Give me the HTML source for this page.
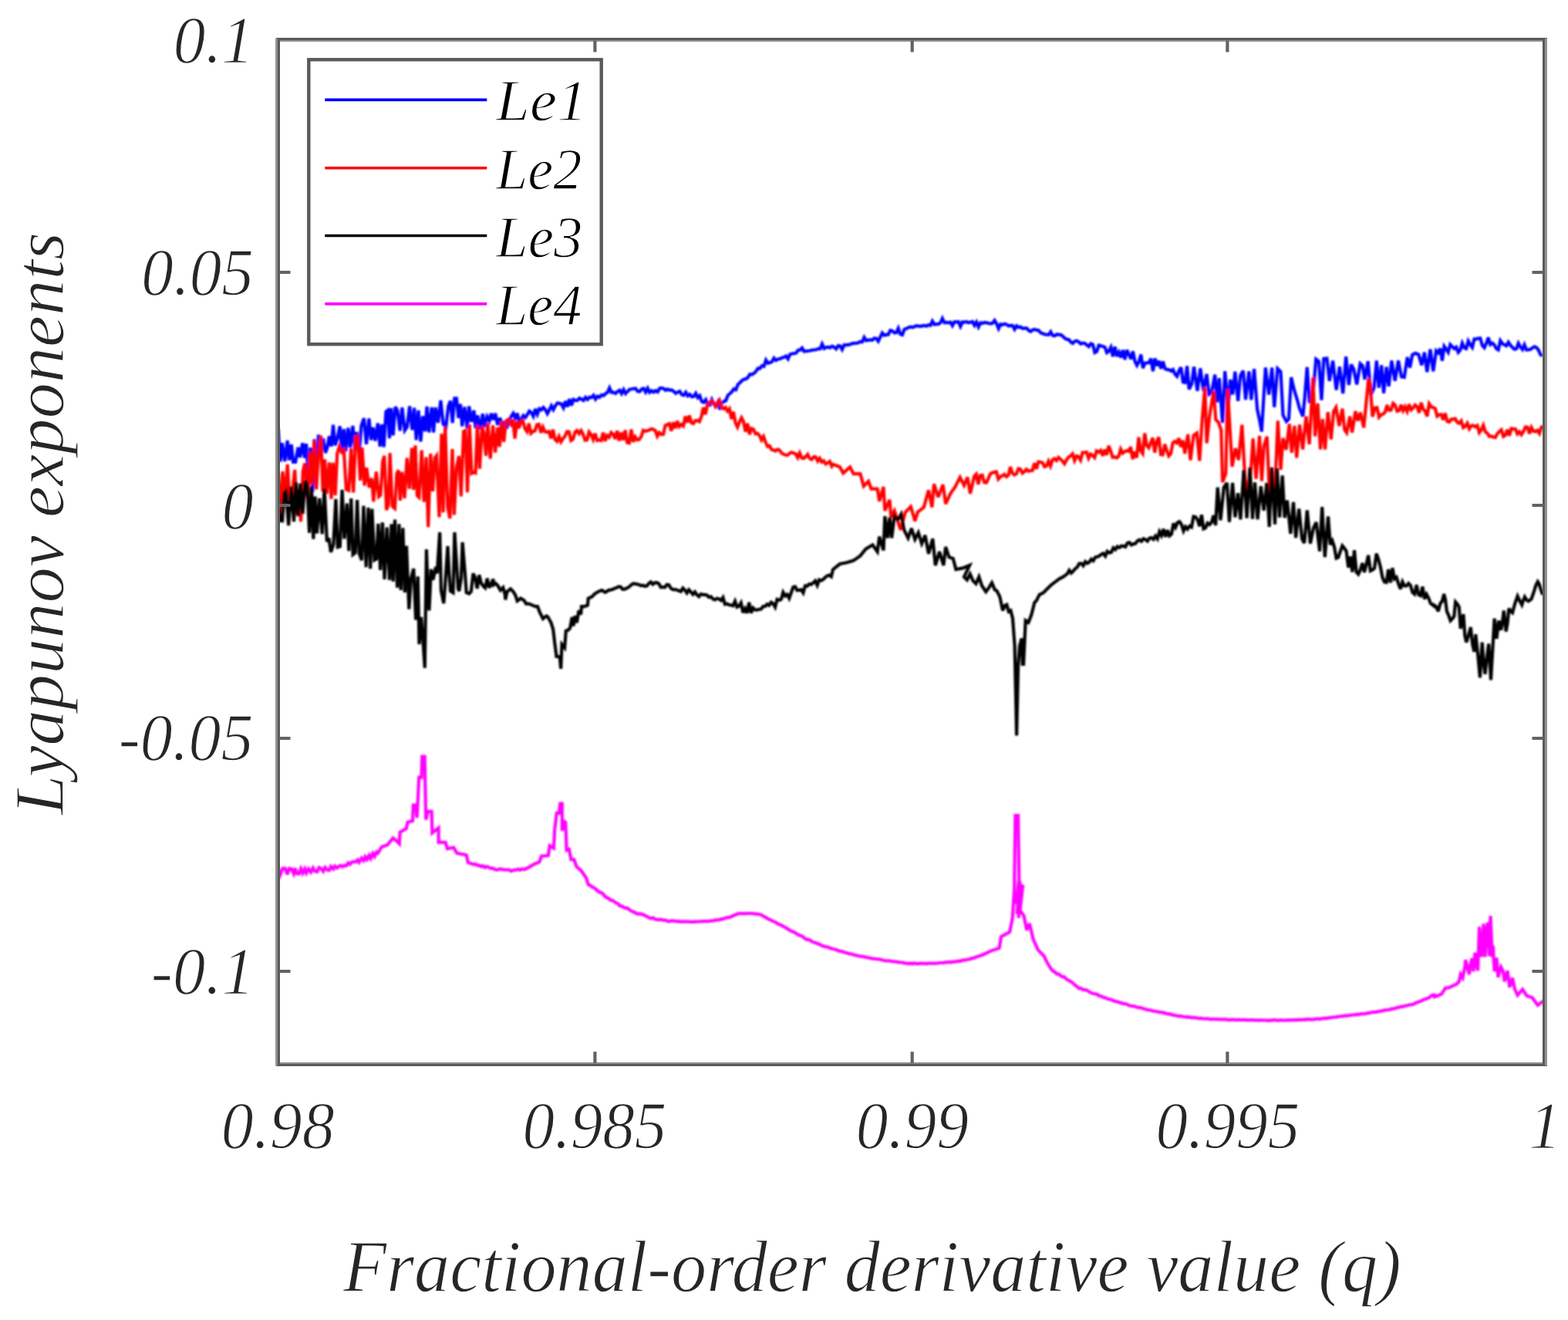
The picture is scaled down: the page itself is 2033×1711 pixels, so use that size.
<!DOCTYPE html><html><head><meta charset="utf-8"><style>html,body{margin:0;padding:0;background:#fff;}svg{display:block;}</style></head><body><svg xmlns="http://www.w3.org/2000/svg" width="2033" height="1711" viewBox="0 0 2033 1711">
<rect x="0" y="0" width="2033" height="1711" fill="#fff"/>
<defs><clipPath id="c"><rect x="360.5" y="51.6" width="1642.0" height="1327.7"/></clipPath><filter id="bl" filterUnits="userSpaceOnUse" x="340" y="30" width="1690" height="1370"><feGaussianBlur stdDeviation="1.0"/></filter></defs>
<g clip-path="url(#c)"><g filter="url(#bl)" fill="none" stroke-linejoin="miter" stroke-miterlimit="3">
<path d="M360.5,556.0 L363.5,598.3 L365.9,574.3 L369.3,597.9 L372.7,571.1 L375.1,596.5 L377.8,576.1 L380.1,598.9 L383.1,598.9 L386.5,579.9 L388.9,592.9 L392.3,574.4 L394.9,593.5 L397.1,575.2 L399.8,618.8 L402.6,580.1 L405.2,637.6 L407.5,569.4 L409.8,618.4 L413.0,563.4 L415.9,587.6 L418.9,568.2 L421.9,587.0 L424.3,580.5 L426.9,565.3 L429.6,578.5 L432.0,550.7 L434.5,577.4 L437.3,568.8 L440.7,552.3 L443.0,581.9 L445.9,556.2 L448.1,585.2 L451.5,554.6 L454.1,580.2 L457.4,552.0 L460.4,584.0 L462.5,559.9 L465.8,585.4 L468.5,551.7 L471.9,542.2 L475.0,575.7 L478.4,542.4 L481.2,570.4 L483.7,554.0 L486.6,571.5 L489.9,548.6 L492.7,578.8 L495.0,550.2 L497.7,579.5 L500.4,533.6 L502.8,531.8 L504.9,568.1 L507.1,529.2 L509.7,564.4 L512.5,527.3 L515.3,532.0 L518.6,558.2 L521.4,528.3 L524.8,557.8 L527.8,553.4 L531.1,526.4 L534.4,557.4 L537.1,528.7 L539.7,570.4 L542.5,531.8 L545.4,572.4 L548.1,539.3 L551.3,559.2 L553.5,526.9 L556.2,560.4 L559.7,528.0 L562.1,560.5 L564.6,528.2 L568.0,547.9 L571.4,518.9 L574.7,549.7 L578.2,553.2 L581.3,526.6 L584.1,519.6 L586.7,548.2 L589.3,516.4 L591.9,516.4 L594.4,541.7 L596.9,523.7 L599.2,552.5 L602.3,527.6 L605.8,555.3 L608.1,526.7 L611.3,546.7 L614.5,532.0 L616.6,555.0 L619.2,538.3 L622.5,556.5 L625.9,536.3 L628.2,553.4 L631.6,540.0 L634.5,545.4 L636.8,535.9 L639.6,544.0 L642.3,536.0 L645.2,550.8 L648.4,541.8 L651.5,553.5 L654.5,546.0 L656.8,555.8 L659.5,546.0 L662.9,539.5 L665.5,535.7 L668.1,542.0 L670.7,535.8 L673.3,547.6 L675.9,543.6 L678.5,538.7 L681.1,541.3 L683.7,537.3 L686.3,532.9 L688.9,534.8 L691.5,539.6 L694.1,530.0 L696.7,536.9 L699.3,529.7 L701.9,531.2 L704.5,528.1 L707.1,531.0 L709.7,536.1 L712.3,531.2 L714.9,525.9 L717.5,530.9 L720.1,525.8 L722.7,522.5 L725.3,522.8 L727.9,523.8 L730.5,528.6 L733.1,520.0 L735.7,527.3 L738.3,517.2 L740.9,525.5 L743.5,517.8 L746.1,519.2 L748.7,519.0 L751.3,516.0 L753.9,517.3 L756.5,519.0 L759.1,515.1 L761.7,517.8 L764.3,514.8 L766.9,515.3 L769.5,512.4 L772.1,517.5 L774.7,513.7 L777.3,514.9 L779.9,511.9 L782.5,512.8 L785.1,510.2 L787.7,508.7 L790.3,502.7 L792.9,508.6 L795.5,508.7 L798.1,509.9 L800.7,507.4 L803.3,505.8 L805.9,510.1 L808.5,504.9 L811.1,510.1 L813.7,507.4 L816.3,504.7 L818.9,504.3 L821.5,503.8 L824.1,503.5 L826.7,507.3 L829.3,507.5 L831.9,504.4 L834.5,503.5 L837.1,508.3 L839.7,503.3 L842.3,508.7 L844.9,506.5 L847.5,508.3 L850.1,506.4 L852.7,508.0 L855.3,503.4 L857.9,503.0 L860.5,503.6 L863.1,505.9 L865.7,504.5 L868.3,505.9 L870.9,505.4 L873.5,507.3 L876.1,509.9 L878.7,508.3 L881.3,507.2 L883.9,511.6 L886.5,512.4 L889.1,508.5 L891.7,513.1 L894.3,511.1 L896.9,514.2 L899.5,513.9 L902.1,509.9 L904.7,515.4 L907.3,513.0 L909.9,520.5 L912.5,521.7 L915.1,518.1 L917.7,524.5 L920.3,525.0 L922.9,518.1 L925.5,523.9 L928.1,526.4 L930.7,521.2 L933.3,530.8 L935.9,522.2 L938.5,520.4 L941.1,519.3 L943.7,512.5 L946.3,510.3 L948.9,507.9 L951.5,504.0 L954.1,505.1 L956.7,498.4 L959.3,496.1 L961.9,493.5 L964.5,491.8 L967.1,491.2 L969.7,489.2 L972.3,485.0 L974.9,485.5 L977.5,483.9 L980.1,481.4 L982.7,477.5 L985.3,477.6 L987.9,474.1 L990.5,474.9 L993.1,466.7 L995.7,470.8 L998.3,470.1 L1000.9,468.9 L1003.5,464.2 L1006.1,467.1 L1008.7,465.5 L1011.3,465.1 L1013.9,463.8 L1016.5,463.1 L1019.1,461.6 L1021.7,465.2 L1024.3,459.2 L1026.9,458.5 L1029.5,458.2 L1032.1,457.7 L1034.7,454.0 L1037.3,453.7 L1039.9,450.9 L1042.5,455.4 L1045.1,455.1 L1047.7,455.0 L1050.3,454.5 L1052.9,453.8 L1055.5,453.5 L1058.1,453.3 L1060.7,452.1 L1063.3,452.2 L1065.9,445.8 L1068.5,451.7 L1071.1,450.2 L1073.7,449.9 L1076.3,450.7 L1078.9,448.7 L1081.5,450.0 L1084.1,452.3 L1086.7,448.1 L1089.3,448.5 L1091.9,453.1 L1094.5,447.1 L1097.1,447.2 L1099.7,447.1 L1102.3,446.2 L1104.9,445.4 L1107.5,444.9 L1110.1,445.0 L1112.7,444.2 L1115.3,442.9 L1117.9,443.3 L1120.5,437.3 L1123.1,441.4 L1125.7,440.9 L1128.3,440.4 L1130.9,441.0 L1133.5,438.5 L1136.1,438.8 L1138.7,442.4 L1141.3,436.9 L1143.9,431.5 L1146.5,434.6 L1149.1,433.9 L1151.7,433.7 L1154.3,428.2 L1156.9,428.8 L1159.5,431.3 L1162.1,431.2 L1164.7,425.5 L1167.3,433.1 L1169.9,434.0 L1172.5,426.8 L1175.1,425.9 L1177.7,424.6 L1180.3,423.7 L1182.9,424.4 L1185.5,423.5 L1188.1,422.2 L1190.7,422.7 L1193.3,423.0 L1195.9,422.4 L1198.5,422.0 L1201.1,422.7 L1203.7,421.3 L1206.3,421.8 L1208.9,416.3 L1211.5,420.6 L1214.1,420.0 L1216.7,420.2 L1219.3,418.4 L1221.9,412.7 L1224.5,418.3 L1227.1,417.9 L1229.7,418.3 L1232.3,417.7 L1234.9,422.2 L1237.5,417.1 L1240.1,417.3 L1242.7,417.0 L1245.3,423.2 L1247.9,417.3 L1250.5,417.7 L1253.1,417.0 L1255.7,418.3 L1258.3,417.5 L1260.9,416.9 L1263.5,421.8 L1266.1,417.4 L1268.7,423.8 L1271.3,418.4 L1273.9,419.0 L1276.5,418.0 L1279.1,418.3 L1281.7,419.0 L1284.3,419.6 L1286.9,418.9 L1289.5,415.3 L1292.1,419.5 L1294.7,426.0 L1297.3,420.3 L1299.9,421.1 L1302.5,419.7 L1305.1,420.6 L1307.7,422.4 L1310.3,421.9 L1312.9,422.1 L1315.5,427.0 L1318.1,422.4 L1320.7,424.2 L1323.3,423.8 L1325.9,425.8 L1328.5,425.4 L1331.1,425.3 L1333.7,428.3 L1336.3,429.7 L1338.9,427.6 L1341.5,426.9 L1344.1,427.9 L1346.7,428.2 L1349.3,431.5 L1351.9,432.3 L1354.5,433.4 L1357.1,433.7 L1359.7,433.9 L1362.3,430.1 L1364.9,434.9 L1367.5,435.3 L1370.1,433.3 L1372.7,433.8 L1375.3,433.8 L1377.9,435.9 L1380.5,438.3 L1383.1,439.9 L1385.7,440.0 L1388.3,443.4 L1390.9,445.0 L1393.5,442.3 L1396.1,441.7 L1398.7,443.2 L1401.3,445.8 L1403.9,444.6 L1406.5,445.0 L1409.1,447.2 L1411.7,449.2 L1414.3,445.4 L1416.9,446.6 L1419.5,457.0 L1422.1,455.5 L1424.7,447.6 L1427.3,448.2 L1429.9,448.9 L1432.5,450.1 L1435.1,457.0 L1437.7,455.0 L1440.3,450.1 L1442.9,462.0 L1445.5,449.5 L1448.1,461.9 L1450.7,456.5 L1453.3,463.4 L1455.9,453.7 L1458.5,466.1 L1461.1,453.6 L1463.7,459.5 L1466.3,465.4 L1468.9,455.3 L1471.5,468.3 L1474.1,473.6 L1476.7,468.7 L1479.3,459.5 L1481.9,477.3 L1484.5,470.6 L1487.1,470.3 L1489.7,470.2 L1492.3,464.7 L1494.9,481.3 L1497.5,464.5 L1500.1,474.1 L1502.7,467.8 L1505.3,477.9 L1507.9,468.5 L1510.5,477.8 L1513.1,479.2 L1515.7,479.1 L1518.3,481.0 L1520.9,479.0 L1523.5,485.0 L1526.1,487.8 L1528.7,480.5 L1531.3,476.2 L1533.9,495.4 L1536.5,496.0 L1539.1,474.5 L1541.7,504.6 L1545.2,497.6 L1548.0,475.4 L1552.5,506.7 L1556.3,477.4 L1560.4,506.5 L1564.5,484.8 L1567.6,511.0 L1571.0,508.4 L1575.2,485.7 L1578.1,521.6 L1580.8,490.1 L1585.1,548.0 L1588.2,481.1 L1592.5,527.1 L1595.3,492.0 L1598.4,511.3 L1601.3,481.6 L1605.2,519.8 L1608.3,486.6 L1611.9,480.6 L1615.0,518.1 L1619.4,481.3 L1622.3,518.3 L1626.1,478.2 L1630.1,530.5 L1633.1,544.5 L1635.8,559.5 L1640.8,476.4 L1645.2,511.5 L1649.2,476.6 L1652.2,527.7 L1656.4,477.7 L1660.5,481.9 L1663.5,538.2 L1668.0,546.4 L1671.0,543.0 L1674.1,489.1 L1677.7,504.4 L1681.8,517.8 L1685.0,529.5 L1689.3,539.8 L1691.6,515.9 L1694.7,475.8 L1698.0,522.1 L1702.1,515.5 L1706.2,465.6 L1710.0,468.6 L1713.4,518.6 L1716.4,464.9 L1720.4,464.5 L1723.7,493.8 L1728.1,467.5 L1732.6,505.4 L1736.9,475.3 L1741.2,510.1 L1745.1,462.1 L1748.9,499.0 L1751.9,472.6 L1755.1,478.3 L1759.2,498.3 L1763.6,471.3 L1766.7,474.0 L1769.5,491.9 L1773.7,468.3 L1777.5,511.6 L1781.5,502.8 L1784.8,467.4 L1787.8,502.6 L1791.2,473.4 L1794.0,509.7 L1797.6,475.6 L1800.6,500.7 L1804.3,467.4 L1808.7,493.7 L1813.0,467.4 L1817.0,488.2 L1820.7,489.0 L1824.7,463.0 L1828.0,476.6 L1831.2,459.8 L1835.1,457.8 L1839.3,459.6 L1843.3,473.3 L1846.9,456.8 L1850.3,482.1 L1854.4,452.8 L1858.3,481.1 L1862.1,454.7 L1864.7,457.2 L1867.3,451.5 L1869.9,467.6 L1872.5,448.9 L1875.1,452.7 L1877.7,456.7 L1880.3,446.6 L1882.9,449.1 L1885.5,451.9 L1888.1,449.9 L1890.7,456.7 L1893.3,453.7 L1895.9,444.7 L1898.5,450.8 L1901.1,451.9 L1903.7,442.0 L1906.3,446.8 L1908.9,450.4 L1911.5,439.4 L1914.1,439.5 L1916.7,438.7 L1919.3,438.5 L1921.9,447.8 L1924.5,450.7 L1927.1,445.2 L1929.7,437.5 L1932.3,446.5 L1934.9,444.7 L1937.5,447.1 L1940.1,451.9 L1942.7,453.4 L1945.3,441.5 L1947.9,445.4 L1950.5,446.8 L1953.1,448.2 L1955.7,443.6 L1958.3,447.5 L1960.9,450.3 L1963.5,452.7 L1966.1,452.0 L1968.7,444.9 L1971.3,449.7 L1973.9,453.0 L1976.5,446.8 L1979.1,453.5 L1981.7,453.3 L1984.3,452.8 L1986.9,450.9 L1989.5,449.4 L1992.1,450.5 L1994.7,453.6 L1997.3,459.5 L1999.9,461.2" stroke="#0000ff" stroke-width="4.2"/>
<path d="M360.5,615.0 L363.1,667.0 L366.4,611.0 L369.9,646.1 L372.7,601.9 L375.5,647.0 L378.7,641.2 L382.2,608.9 L385.5,667.6 L387.8,635.0 L390.0,676.1 L392.8,610.9 L395.3,600.4 L398.8,647.2 L401.7,585.6 L404.3,628.0 L407.5,570.8 L410.1,634.4 L412.9,590.8 L416.0,564.5 L418.6,637.4 L421.1,595.4 L423.7,640.2 L427.0,599.5 L429.5,646.7 L431.8,599.9 L434.7,642.1 L437.2,588.0 L439.9,579.1 L442.9,585.9 L445.8,583.3 L448.9,634.3 L452.2,635.8 L455.2,581.1 L458.2,638.4 L461.1,566.2 L463.8,565.5 L467.2,622.9 L469.5,580.2 L472.6,629.4 L475.3,606.2 L478.7,632.0 L482.0,619.9 L484.3,650.2 L487.8,611.5 L491.1,643.8 L493.4,641.8 L496.2,598.1 L498.3,590.8 L501.1,661.1 L503.5,654.2 L505.6,587.2 L508.7,656.3 L511.9,659.1 L514.5,613.7 L516.7,609.5 L518.8,648.8 L521.3,611.8 L524.5,645.8 L527.7,593.7 L530.8,633.6 L534.0,580.6 L536.1,634.9 L538.5,577.4 L540.9,642.4 L543.3,644.6 L546.7,583.6 L549.7,650.7 L552.6,592.5 L555.2,683.2 L558.2,588.1 L561.1,636.8 L563.7,593.8 L566.0,590.7 L569.5,670.3 L572.5,562.2 L574.6,664.2 L577.2,552.9 L580.4,657.5 L583.4,672.0 L586.5,582.1 L588.8,667.5 L591.9,606.4 L595.0,591.2 L597.8,643.5 L601.1,559.3 L603.4,558.1 L606.0,638.2 L608.7,550.2 L611.5,613.7 L613.8,612.3 L616.5,613.1 L618.9,551.2 L621.9,607.7 L625.1,552.6 L627.5,562.1 L630.1,590.8 L632.4,548.3 L635.7,594.6 L639.1,551.4 L642.1,586.5 L645.3,554.0 L647.7,579.2 L650.0,546.4 L653.2,572.7 L656.1,545.7 L659.2,543.6 L662.4,550.0 L665.0,543.8 L667.6,568.5 L670.2,546.2 L672.8,555.1 L675.4,546.3 L678.0,545.5 L680.6,555.5 L683.2,559.4 L685.8,548.8 L688.4,561.7 L691.0,559.2 L693.6,558.5 L696.2,550.5 L698.8,550.1 L701.4,560.9 L704.0,553.7 L706.6,559.6 L709.2,560.1 L711.8,559.4 L714.4,568.3 L717.0,556.8 L719.6,569.6 L722.2,572.1 L724.8,565.7 L727.4,572.7 L730.0,568.5 L732.6,565.2 L735.2,559.5 L737.8,559.7 L740.4,571.1 L743.0,569.3 L745.6,560.1 L748.2,558.1 L750.8,562.2 L753.4,558.2 L756.0,562.9 L758.6,570.7 L761.2,570.2 L763.8,560.0 L766.4,563.3 L769.0,569.7 L771.6,561.8 L774.2,571.1 L776.8,570.2 L779.4,571.1 L782.0,560.8 L784.6,571.7 L787.2,564.4 L789.8,566.7 L792.4,560.7 L795.0,562.8 L797.6,569.0 L800.2,558.5 L802.8,571.3 L805.4,560.7 L808.0,570.4 L810.6,557.6 L813.2,573.8 L815.8,574.3 L818.4,556.7 L821.0,573.0 L823.6,566.2 L826.2,570.1 L828.8,569.6 L831.4,565.8 L834.0,557.8 L836.6,558.9 L839.2,558.4 L841.8,557.3 L844.4,556.0 L847.0,556.4 L849.6,558.1 L852.2,565.5 L854.8,560.8 L857.4,563.1 L860.0,562.9 L862.6,551.6 L865.2,550.5 L867.8,549.2 L870.4,558.6 L873.0,547.4 L875.6,555.2 L878.2,545.7 L880.8,552.9 L883.4,550.2 L886.0,552.3 L888.6,539.7 L891.2,547.6 L893.8,538.6 L896.4,547.9 L899.0,549.1 L901.6,545.2 L904.2,545.2 L906.8,546.5 L909.4,539.9 L912.0,528.1 L914.6,537.1 L917.2,524.6 L919.8,521.6 L922.4,520.0 L925.0,521.3 L927.6,527.0 L930.2,523.1 L932.8,518.9 L935.4,527.3 L938.0,529.8 L940.6,528.0 L943.2,532.9 L945.8,529.9 L948.4,543.1 L951.0,533.8 L953.6,548.4 L956.2,553.7 L958.8,546.8 L961.4,541.4 L964.0,546.5 L966.6,559.5 L969.2,548.9 L971.8,563.0 L974.4,555.4 L977.0,556.5 L979.6,562.4 L982.2,561.9 L984.8,564.6 L987.4,570.4 L990.0,565.8 L992.6,573.3 L995.2,578.7 L997.8,577.9 L1000.4,582.8 L1003.0,583.5 L1005.6,584.6 L1008.2,582.4 L1010.8,583.6 L1013.4,587.2 L1016.0,588.9 L1018.6,589.8 L1021.2,590.1 L1023.8,587.4 L1026.4,586.3 L1029.0,587.4 L1031.6,588.3 L1034.2,593.1 L1036.8,587.1 L1039.4,593.5 L1042.0,594.1 L1044.6,591.9 L1047.2,589.0 L1049.8,594.3 L1052.4,595.6 L1055.0,592.2 L1057.6,592.3 L1060.2,597.6 L1062.8,594.0 L1065.4,598.9 L1068.0,597.4 L1070.6,601.5 L1073.2,600.1 L1075.8,598.1 L1078.4,604.3 L1080.0,601.8 L1088.9,605.3 L1093.3,613.3 L1102.1,605.3 L1106.6,614.2 L1115.4,614.2 L1119.8,630.1 L1126.0,623.9 L1129.6,633.6 L1137.6,633.6 L1140.2,649.6 L1145.5,631.0 L1147.3,662.0 L1153.5,647.8 L1155.3,670.8 L1159.7,662.0 L1167.7,686.8 L1173.9,663.8 L1180.9,656.7 L1186.3,675.3 L1189.8,663.8 L1197.8,657.6 L1204.0,635.4 L1208.4,657.6 L1211.0,627.4 L1216.4,644.3 L1222.6,628.3 L1226.1,653.1 L1232.3,639.8 L1238.5,631.0 L1244.7,618.6 L1250.0,629.2 L1254.4,618.6 L1258.0,639.8 L1260.6,628.7 L1263.2,617.3 L1265.8,614.6 L1268.4,627.8 L1271.0,616.3 L1273.6,615.9 L1276.2,625.2 L1278.8,625.6 L1281.4,620.3 L1284.0,614.2 L1286.6,612.7 L1289.2,612.1 L1291.8,611.5 L1294.4,620.9 L1297.0,618.0 L1299.6,616.7 L1302.2,614.8 L1304.8,618.0 L1307.4,616.1 L1310.0,605.2 L1312.6,613.4 L1315.2,615.6 L1317.8,614.3 L1320.4,607.4 L1323.0,608.0 L1325.6,613.3 L1328.2,611.4 L1330.8,608.3 L1333.4,610.9 L1336.0,610.0 L1338.6,609.9 L1341.2,600.4 L1343.8,607.9 L1346.4,598.6 L1349.0,599.0 L1351.6,599.5 L1354.2,605.0 L1356.8,604.1 L1359.4,597.8 L1362.0,604.2 L1364.6,596.1 L1367.2,594.5 L1369.8,597.0 L1372.4,592.9 L1375.0,595.3 L1377.6,597.7 L1380.2,601.1 L1382.8,596.2 L1385.4,592.7 L1388.0,590.9 L1390.6,588.2 L1393.2,597.0 L1395.8,590.9 L1398.4,592.0 L1401.0,596.5 L1403.6,586.5 L1406.2,586.5 L1408.8,586.1 L1411.4,594.0 L1414.0,588.6 L1416.6,590.3 L1419.2,593.1 L1421.8,584.5 L1424.4,586.1 L1427.0,583.8 L1429.6,590.9 L1432.2,582.8 L1434.8,589.9 L1437.4,577.9 L1440.0,584.3 L1442.6,592.8 L1445.2,592.3 L1447.8,593.5 L1450.4,591.5 L1453.0,582.1 L1455.6,587.5 L1458.2,585.3 L1460.8,584.3 L1463.4,585.0 L1466.0,579.4 L1468.6,595.1 L1471.2,585.6 L1473.8,593.3 L1476.4,566.7 L1479.0,584.2 L1481.6,587.9 L1484.2,561.7 L1486.8,577.2 L1489.4,580.4 L1492.0,574.1 L1494.6,567.6 L1497.2,586.6 L1499.8,572.2 L1502.4,566.5 L1505.0,589.2 L1507.6,589.5 L1510.2,575.9 L1512.8,583.9 L1515.4,591.0 L1518.0,588.0 L1520.6,574.2 L1523.2,572.2 L1525.8,574.2 L1528.4,568.0 L1531.0,579.3 L1533.6,570.9 L1536.2,587.9 L1540.2,563.0 L1543.5,596.6 L1547.6,564.3 L1551.7,561.3 L1555.3,597.3 L1558.5,546.6 L1562.2,502.2 L1564.6,574.5 L1568.5,537.3 L1573.6,507.1 L1576.3,543.9 L1579.9,547.5 L1583.3,557.6 L1585.1,625.0 L1589.3,613.6 L1591.7,503.8 L1597.5,604.8 L1601.8,581.1 L1605.9,596.3 L1610.3,550.7 L1614.3,620.5 L1617.8,639.7 L1621.5,614.4 L1624.6,568.5 L1628.6,620.5 L1633.0,564.9 L1635.9,623.5 L1638.7,578.5 L1642.7,565.8 L1645.9,638.2 L1650.6,649.5 L1652.9,637.0 L1656.8,545.4 L1660.5,608.9 L1663.5,567.8 L1667.6,583.0 L1671.7,549.4 L1674.8,586.8 L1678.3,551.9 L1681.2,593.4 L1685.0,550.4 L1689.1,582.5 L1693.4,539.6 L1697.6,576.0 L1702.4,489.1 L1705.1,565.5 L1708.5,522.8 L1712.0,582.5 L1714.8,543.1 L1718.0,582.6 L1721.7,534.2 L1725.8,569.6 L1729.2,533.2 L1732.2,528.0 L1736.4,552.2 L1740.5,529.7 L1743.3,557.0 L1746.1,561.0 L1750.2,539.7 L1753.1,560.6 L1757.4,533.1 L1760.7,545.5 L1763.8,534.6 L1768.2,554.3 L1774.4,490.7 L1776.5,497.7 L1779.5,540.2 L1782.8,528.7 L1785.4,528.4 L1788.0,540.8 L1790.6,537.7 L1793.2,536.6 L1795.8,534.5 L1798.4,525.0 L1801.0,531.7 L1803.6,531.5 L1806.2,522.8 L1808.8,524.9 L1811.4,532.9 L1814.0,532.2 L1816.6,524.6 L1819.2,532.2 L1821.8,527.3 L1824.4,533.3 L1827.0,524.0 L1829.6,531.2 L1832.2,528.9 L1834.8,524.9 L1837.4,527.1 L1840.0,535.0 L1842.6,521.8 L1845.2,530.2 L1847.8,533.0 L1850.4,539.7 L1853.0,523.3 L1855.6,527.4 L1858.2,528.1 L1860.8,529.5 L1863.4,539.4 L1866.0,537.5 L1868.6,537.3 L1871.2,544.2 L1873.8,535.7 L1876.4,546.2 L1879.0,547.1 L1881.6,543.4 L1884.2,543.3 L1886.8,542.7 L1889.4,547.3 L1892.0,548.6 L1894.6,545.6 L1897.2,554.2 L1899.8,552.6 L1902.4,548.5 L1905.0,555.8 L1907.6,552.0 L1910.2,551.5 L1912.8,553.2 L1915.4,551.5 L1918.0,560.8 L1920.6,557.2 L1923.2,551.3 L1925.8,559.7 L1928.4,561.5 L1931.0,565.5 L1933.6,565.4 L1936.2,566.5 L1938.8,567.1 L1941.4,562.1 L1944.0,559.3 L1946.6,557.1 L1949.2,565.8 L1951.8,564.1 L1954.4,556.9 L1957.0,564.8 L1959.6,555.4 L1962.2,555.8 L1964.8,556.0 L1967.4,562.5 L1970.0,559.7 L1972.6,563.4 L1975.2,559.2 L1977.8,553.4 L1980.4,553.7 L1983.0,562.0 L1985.6,554.0 L1988.2,558.8 L1990.8,559.4 L1993.4,557.8 L1996.0,561.9 L1998.6,553.8 L2001.2,552.4" stroke="#ff0000" stroke-width="4.2"/>
<path d="M360.5,647.3 L362.9,674.8 L366.1,675.1 L368.3,639.4 L370.9,636.6 L374.1,681.1 L377.6,631.0 L381.0,676.1 L383.7,625.2 L386.8,669.0 L389.4,626.6 L392.4,666.2 L395.7,623.3 L398.2,627.1 L401.1,690.7 L403.9,630.7 L406.3,698.6 L408.6,643.6 L410.9,691.3 L414.3,645.9 L417.7,692.1 L420.6,633.3 L423.9,702.1 L426.4,697.5 L429.0,715.7 L432.3,705.8 L435.4,646.9 L437.8,709.2 L440.8,708.4 L443.6,634.8 L446.4,698.3 L449.9,652.6 L452.3,714.1 L455.3,646.0 L457.6,718.8 L460.7,716.5 L463.1,648.0 L465.8,717.5 L469.0,726.2 L471.4,655.7 L474.7,735.2 L477.5,658.0 L480.2,737.1 L482.3,659.7 L485.5,726.0 L488.0,724.6 L490.4,678.8 L493.1,739.0 L495.9,677.2 L498.5,750.9 L501.7,683.5 L505.0,751.8 L507.5,679.3 L509.7,753.7 L512.0,673.5 L515.1,761.6 L517.4,679.2 L519.7,764.9 L522.4,684.4 L524.8,767.9 L527.0,707.5 L530.3,789.6 L533.0,749.6 L536.3,737.1 L539.1,803.3 L541.8,747.2 L543.5,835.0 L546.0,800.0 L548.7,833.5 L550.8,865.8 L552.9,712.0 L555.0,770.0 L556.4,791.3 L558.9,737.9 L561.5,751.5 L565.0,735.0 L566.7,743.4 L570.2,690.0 L571.9,765.1 L575.3,782.0 L577.1,759.2 L580.5,707.9 L582.3,741.9 L584.0,766.0 L587.5,768.2 L589.4,690.0 L594.0,763.0 L595.3,766.1 L597.9,749.5 L599.6,702.8 L603.1,745.9 L604.7,768.0 L608.3,769.5 L610.9,766.6 L613.5,743.3 L616.1,748.7 L618.7,762.9 L621.3,745.2 L623.9,755.8 L626.5,759.5 L629.1,761.9 L631.7,749.7 L634.3,761.9 L636.9,756.7 L639.5,750.6 L640.0,758.1 L642.6,756.3 L645.3,758.9 L648.8,765.1 L652.3,761.6 L654.9,771.2 L655.3,777.3 L657.5,766.8 L661.9,763.3 L665.4,766.8 L668.1,771.2 L670.7,779.1 L675.1,775.6 L679.5,778.2 L682.1,782.6 L685.6,782.6 L690.0,784.4 L694.4,786.1 L697.0,786.1 L699.6,793.1 L704.0,801.9 L708.4,798.4 L710.1,799.3 L714.5,807.2 L717.2,815.9 L718.9,830.8 L721.5,851.0 L724.2,851.0 L725.9,852.7 L727.2,866.8 L728.5,835.2 L732.1,839.6 L733.8,817.7 L736.4,816.8 L739.1,814.2 L741.7,800.1 L743.5,811.5 L745.2,798.4 L747.8,807.2 L750.5,791.4 L753.1,796.6 L754.0,786.1 L757.5,786.1 L761.9,784.4 L762.7,775.6 L767.1,773.8 L771.5,769.5 L775.9,766.8 L780.3,765.1 L784.7,767.7 L789.0,765.1 L793.4,764.2 L799.6,761.6 L802.2,760.4 L804.8,760.7 L807.4,763.9 L810.0,763.7 L812.6,762.4 L815.2,761.1 L817.8,758.8 L820.4,756.6 L823.0,756.7 L825.6,757.1 L828.2,757.7 L830.8,759.1 L833.4,758.7 L836.0,759.8 L838.6,759.6 L841.2,756.3 L843.8,754.4 L846.4,757.4 L849.0,755.3 L851.6,755.1 L854.2,756.6 L856.8,761.3 L859.4,761.0 L862.0,761.2 L864.6,757.8 L867.2,758.2 L869.8,762.6 L872.4,764.2 L875.0,764.0 L877.6,764.8 L880.2,765.7 L882.8,766.7 L885.4,762.4 L888.0,764.8 L890.6,768.7 L893.2,764.4 L895.8,767.3 L898.4,770.4 L901.0,767.2 L903.6,771.0 L906.2,773.2 L908.8,769.9 L911.4,770.9 L914.0,770.9 L916.6,771.5 L919.2,774.1 L921.8,773.3 L924.4,776.5 L927.0,777.4 L929.6,775.8 L932.2,776.4 L934.8,778.3 L937.4,774.4 L940.0,783.3 L942.6,782.7 L945.2,784.0 L947.8,784.3 L950.4,785.1 L953.0,779.3 L955.6,786.9 L958.2,785.7 L960.8,781.4 L963.4,794.1 L966.0,788.9 L968.6,794.7 L971.2,781.0 L973.8,794.6 L976.4,787.9 L979.0,790.4 L981.6,790.7 L984.2,789.7 L986.8,789.5 L989.4,786.0 L992.0,785.9 L994.6,783.1 L997.2,784.7 L999.8,780.7 L1002.4,782.4 L1005.0,786.9 L1007.6,776.8 L1010.2,777.9 L1012.8,777.0 L1015.4,767.7 L1018.0,772.4 L1020.6,770.6 L1023.2,775.5 L1025.8,768.4 L1028.4,761.1 L1031.0,760.4 L1033.6,765.2 L1036.2,764.9 L1038.8,764.4 L1041.4,768.5 L1044.0,759.3 L1046.6,759.7 L1049.2,757.1 L1051.8,757.6 L1054.4,755.4 L1057.0,752.9 L1059.6,758.6 L1062.2,751.5 L1064.8,752.4 L1067.4,751.0 L1070.0,748.3 L1072.6,746.3 L1075.2,745.5 L1077.8,747.4 L1080.0,738.1 L1088.9,731.0 L1097.7,729.3 L1106.6,726.6 L1115.4,720.4 L1122.5,711.6 L1131.4,706.3 L1137.6,715.1 L1140.2,695.6 L1145.5,713.3 L1147.3,669.1 L1150.8,697.4 L1153.5,670.8 L1156.1,697.4 L1159.7,669.1 L1164.1,673.5 L1168.5,666.4 L1172.1,686.8 L1177.4,697.4 L1181.8,685.0 L1186.3,699.2 L1190.7,690.3 L1195.1,704.5 L1199.5,693.9 L1204.0,717.8 L1209.3,698.3 L1212.8,732.8 L1218.1,715.1 L1223.4,732.8 L1226.1,708.9 L1230.5,722.2 L1235.8,724.0 L1239.4,738.1 L1248.2,736.4 L1257.1,732.8 L1250.0,747.7 L1253.9,751.6 L1257.7,743.9 L1261.6,752.9 L1265.4,756.7 L1269.3,747.7 L1273.1,759.3 L1278.3,767.0 L1282.1,761.9 L1286.0,755.4 L1289.8,764.4 L1292.4,765.7 L1296.3,773.4 L1300.1,791.4 L1302.7,785.0 L1305.3,783.7 L1307.8,792.7 L1310.4,791.4 L1313.0,801.7 L1315.6,836.4 L1318.1,953.4 L1320.1,863.4 L1322.0,837.7 L1324.6,827.4 L1325.8,860.8 L1327.1,860.8 L1329.7,804.3 L1333.5,806.8 L1337.4,796.6 L1341.3,781.1 L1343.8,778.6 L1347.7,770.8 L1352.8,768.3 L1358.0,763.1 L1363.1,758.0 L1368.3,754.1 L1373.4,750.3 L1378.5,747.7 L1383.7,743.9 L1386.3,739.1 L1388.9,742.7 L1391.5,740.2 L1394.1,737.2 L1396.7,735.1 L1399.3,730.5 L1401.9,730.3 L1404.5,733.2 L1407.1,728.0 L1409.7,730.1 L1412.3,728.6 L1414.9,724.8 L1417.5,726.8 L1420.1,722.3 L1422.7,721.8 L1425.3,720.7 L1427.9,718.5 L1430.5,717.4 L1433.1,720.8 L1435.7,714.6 L1438.3,716.4 L1440.9,715.9 L1443.5,710.1 L1446.1,712.3 L1448.7,708.5 L1451.3,709.8 L1453.9,707.6 L1456.5,707.9 L1459.1,708.9 L1461.7,704.0 L1464.3,703.1 L1466.9,706.3 L1469.5,705.1 L1472.1,704.6 L1474.7,701.2 L1477.3,699.8 L1479.9,701.6 L1482.5,698.2 L1485.1,699.3 L1487.7,701.4 L1490.3,697.6 L1492.9,697.1 L1495.5,699.1 L1498.1,694.8 L1500.7,698.5 L1503.3,689.1 L1505.9,694.1 L1508.5,685.7 L1511.1,695.8 L1513.7,687.2 L1516.3,694.4 L1518.9,692.3 L1521.5,678.5 L1524.1,683.6 L1526.7,677.4 L1529.3,676.2 L1531.9,679.9 L1534.5,688.2 L1537.1,682.8 L1539.7,685.8 L1542.3,681.9 L1544.9,683.3 L1547.5,669.5 L1550.1,670.1 L1552.7,673.6 L1555.3,682.2 L1557.9,667.4 L1560.5,685.5 L1563.1,684.3 L1565.7,678.0 L1568.3,680.0 L1570.9,677.0 L1573.5,668.1 L1576.1,680.9 L1578.7,631.8 L1582.5,674.3 L1586.8,631.7 L1590.8,625.9 L1593.9,676.5 L1598.1,625.9 L1601.4,670.4 L1605.1,639.2 L1608.4,673.4 L1612.7,609.1 L1616.6,671.7 L1620.6,606.0 L1624.0,672.6 L1627.0,625.5 L1630.5,673.2 L1634.8,630.2 L1638.6,661.8 L1642.4,626.0 L1645.7,683.0 L1648.9,605.9 L1653.0,679.7 L1655.8,607.0 L1659.1,670.7 L1662.7,616.3 L1665.6,671.2 L1668.9,648.6 L1673.3,691.9 L1677.0,650.9 L1680.1,697.0 L1684.2,659.4 L1688.1,698.4 L1691.1,703.9 L1694.8,661.4 L1698.9,704.5 L1703.0,684.4 L1706.6,677.0 L1711.0,714.6 L1714.2,657.2 L1717.8,722.2 L1722.0,669.3 L1724.8,706.1 L1727.4,701.0 L1730.0,708.8 L1732.6,723.5 L1735.2,722.4 L1737.8,714.6 L1740.4,707.5 L1743.0,710.6 L1745.6,714.5 L1748.2,735.5 L1750.8,721.4 L1753.4,741.4 L1756.0,713.2 L1758.6,741.5 L1761.2,744.3 L1763.8,738.5 L1766.4,729.9 L1769.0,741.7 L1771.6,731.0 L1774.2,719.7 L1776.8,740.0 L1779.4,738.8 L1782.0,736.7 L1784.6,717.6 L1787.2,724.9 L1789.8,734.6 L1792.4,748.3 L1795.0,754.4 L1797.6,754.9 L1800.2,738.1 L1802.8,755.2 L1805.4,736.2 L1808.0,750.3 L1810.6,748.3 L1813.2,756.7 L1815.8,763.5 L1818.4,754.1 L1821.0,759.5 L1823.6,759.5 L1826.2,756.1 L1828.8,758.8 L1831.4,767.8 L1834.0,770.1 L1836.6,758.2 L1839.2,770.8 L1841.8,772.1 L1844.4,760.4 L1847.0,776.4 L1849.6,770.3 L1852.2,775.0 L1854.8,782.1 L1857.4,784.2 L1860.0,786.1 L1860.0,784.9 L1862.3,786.6 L1864.7,792.4 L1867.5,782.1 L1869.8,779.4 L1872.2,769.9 L1874.0,777.3 L1875.9,792.4 L1878.2,797.6 L1880.6,804.5 L1882.9,802.1 L1885.3,798.9 L1887.1,780.2 L1889.5,782.9 L1891.8,786.8 L1893.7,814.8 L1895.5,804.3 L1897.4,796.1 L1899.3,823.7 L1901.2,832.6 L1904.0,823.5 L1906.8,813.0 L1909.1,834.6 L1911.4,844.8 L1913.3,822.3 L1916.1,848.2 L1918.9,878.4 L1921.7,832.6 L1923.6,859.4 L1925.5,873.8 L1927.8,852.7 L1930.2,834.5 L1933.0,881.3 L1935.8,833.5 L1937.6,801.7 L1940.4,827.9 L1943.3,804.5 L1946.1,816.7 L1947.9,807.2 L1949.8,791.4 L1952.6,818.6 L1954.5,808.3 L1956.4,788.6 L1958.7,792.3 L1961.0,794.3 L1964.3,782.0 L1967.6,772.7 L1970.4,778.8 L1973.2,784.0 L1975.1,777.9 L1976.9,773.7 L1979.3,777.8 L1981.6,779.3 L1985.4,776.6 L1989.1,766.2 L1991.4,758.6 L1993.8,754.0 L1995.6,756.8 L1997.5,763.4 L2000.3,770.9" stroke="#000000" stroke-width="4.2"/>
<path d="M360.5,1126.6 L363.2,1134.2 L366.4,1125.5 L369.6,1125.5 L372.6,1133.5 L375.0,1125.8 L378.0,1126.4 L380.8,1132.6 L382.7,1125.5 L385.2,1132.5 L387.7,1132.6 L390.1,1126.0 L392.5,1131.8 L395.2,1126.2 L397.2,1131.6 L400.1,1126.2 L403.1,1130.6 L405.9,1125.0 L408.3,1129.3 L411.3,1130.1 L413.6,1124.6 L416.3,1125.8 L419.1,1129.4 L421.5,1124.3 L424.4,1127.8 L427.0,1128.0 L429.0,1123.1 L432.2,1126.5 L434.2,1122.6 L436.9,1125.2 L439.5,1122.9 L441.9,1121.9 L444.3,1123.5 L446.7,1121.8 L449.1,1122.2 L451.5,1118.5 L453.9,1120.3 L456.3,1117.3 L458.7,1117.0 L461.1,1117.3 L463.5,1114.6 L465.6,1117.8 L468.7,1112.3 L471.5,1115.5 L473.5,1110.5 L475.9,1114.1 L478.6,1108.7 L480.7,1112.7 L483.4,1106.2 L485.8,1110.1 L488.1,1104.5 L490.0,1105.8 L494.9,1097.7 L502.3,1095.2 L509.6,1086.2 L514.5,1090.3 L517.8,1093.6 L518.6,1078.8 L526.8,1073.9 L528.5,1065.7 L535.0,1064.1 L535.8,1043.6 L539.1,1043.6 L540.7,1060.0 L543.2,1007.6 L546.5,1007.6 L547.3,980.6 L550.6,980.6 L552.2,1062.5 L554.6,1051.8 L559.6,1051.8 L560.4,1079.7 L568.6,1073.1 L568.6,1091.9 L577.6,1091.9 L580.0,1100.1 L588.2,1098.5 L592.3,1105.8 L604.6,1108.3 L607.0,1118.2 L609.4,1118.7 L611.8,1119.7 L614.2,1120.3 L616.6,1120.1 L619.0,1121.9 L621.4,1121.5 L623.8,1123.4 L626.2,1122.3 L628.6,1124.4 L631.0,1123.3 L633.4,1123.9 L635.8,1125.6 L638.2,1125.2 L640.6,1126.5 L643.0,1127.3 L645.4,1127.4 L647.8,1126.4 L650.2,1126.6 L652.6,1127.2 L655.0,1127.5 L657.4,1127.4 L659.8,1127.3 L662.2,1129.1 L664.6,1128.6 L667.0,1127.5 L669.4,1127.6 L671.8,1126.6 L674.2,1127.8 L676.6,1126.3 L679.0,1126.8 L680.0,1127.0 L686.4,1123.8 L692.9,1120.0 L699.3,1117.4 L701.9,1109.7 L710.8,1109.0 L712.8,1096.2 L717.9,1099.4 L719.2,1075.0 L721.8,1053.8 L725.0,1053.8 L726.3,1041.6 L728.8,1041.6 L728.8,1076.9 L731.4,1064.7 L733.3,1066.0 L734.6,1102.0 L737.8,1100.7 L740.4,1114.2 L744.3,1114.2 L747.5,1123.2 L753.9,1129.0 L760.3,1138.6 L762.7,1146.6 L765.1,1147.7 L767.5,1149.4 L769.9,1150.6 L772.3,1152.4 L774.7,1154.6 L777.1,1156.5 L779.5,1157.0 L781.9,1158.7 L784.3,1161.9 L786.7,1163.4 L789.1,1164.6 L791.5,1166.7 L793.9,1167.1 L796.3,1168.4 L798.7,1170.5 L801.1,1171.4 L803.5,1174.1 L805.9,1174.4 L808.3,1175.9 L810.7,1177.2 L813.1,1177.0 L815.5,1178.6 L817.9,1180.6 L820.3,1181.8 L822.7,1182.5 L825.1,1184.1 L827.5,1184.8 L829.9,1184.5 L832.3,1185.1 L834.7,1186.0 L837.1,1187.2 L839.5,1188.3 L841.9,1189.8 L844.3,1190.4 L846.7,1189.5 L849.1,1191.3 L851.5,1191.9 L853.9,1192.3 L856.3,1191.8 L858.7,1192.7 L861.1,1192.6 L863.5,1193.0 L865.9,1194.2 L868.3,1194.3 L870.7,1193.4 L873.1,1193.7 L875.5,1193.9 L877.9,1194.4 L880.3,1194.2 L882.7,1194.8 L885.1,1194.6 L887.5,1194.5 L889.9,1194.7 L892.3,1194.5 L894.7,1194.9 L897.1,1195.0 L899.5,1194.6 L901.9,1194.8 L904.3,1194.5 L906.7,1194.5 L909.1,1194.4 L911.5,1194.2 L913.9,1194.2 L916.3,1194.2 L918.7,1194.2 L921.1,1193.7 L923.5,1193.6 L925.9,1193.1 L928.3,1192.6 L930.7,1192.4 L933.1,1192.2 L935.5,1191.2 L937.9,1191.2 L940.3,1189.9 L942.7,1189.3 L945.1,1189.1 L947.5,1188.5 L949.9,1187.2 L952.3,1186.3 L954.7,1185.2 L957.1,1184.2 L959.5,1184.0 L961.9,1184.1 L964.3,1184.2 L966.7,1184.1 L969.1,1184.0 L971.5,1183.9 L973.9,1184.0 L976.3,1184.2 L978.7,1184.6 L981.1,1184.7 L983.5,1185.0 L985.9,1185.2 L988.3,1186.8 L990.7,1188.0 L993.1,1189.4 L995.5,1190.9 L997.9,1191.9 L1000.3,1193.2 L1002.7,1194.4 L1005.1,1195.1 L1007.5,1196.9 L1009.9,1198.1 L1012.3,1198.9 L1014.7,1200.4 L1017.1,1201.5 L1019.5,1202.9 L1021.9,1204.5 L1024.3,1205.9 L1026.7,1207.4 L1029.1,1208.0 L1031.5,1209.5 L1033.9,1210.9 L1036.3,1212.5 L1038.7,1212.7 L1041.1,1214.3 L1043.5,1216.4 L1045.9,1217.8 L1048.3,1217.8 L1050.7,1219.1 L1053.1,1220.7 L1055.5,1221.6 L1057.9,1222.2 L1060.3,1223.2 L1062.7,1223.9 L1065.1,1225.7 L1067.5,1226.3 L1069.9,1227.2 L1072.3,1227.3 L1074.7,1228.2 L1077.1,1229.4 L1079.5,1229.8 L1081.9,1230.5 L1084.3,1231.0 L1086.7,1232.2 L1089.1,1232.9 L1091.5,1233.3 L1093.9,1234.1 L1096.3,1234.8 L1098.7,1235.4 L1101.1,1236.2 L1103.5,1236.5 L1105.9,1237.3 L1108.3,1238.0 L1110.7,1238.5 L1113.1,1239.1 L1115.5,1239.5 L1117.9,1239.9 L1120.3,1240.1 L1122.7,1240.7 L1125.1,1241.3 L1127.5,1241.8 L1129.9,1242.4 L1132.3,1242.7 L1134.7,1242.8 L1137.1,1243.2 L1139.5,1243.4 L1141.9,1243.7 L1144.3,1244.5 L1146.7,1245.0 L1149.1,1245.4 L1151.5,1245.4 L1153.9,1245.5 L1156.3,1246.2 L1158.7,1246.3 L1161.1,1246.7 L1163.5,1246.8 L1165.9,1247.4 L1168.3,1247.5 L1170.7,1247.9 L1173.1,1248.4 L1175.5,1248.6 L1177.9,1249.3 L1180.3,1248.3 L1182.7,1249.5 L1185.1,1248.2 L1187.5,1249.1 L1189.9,1249.2 L1192.3,1248.9 L1194.7,1248.7 L1197.1,1248.9 L1199.5,1248.9 L1201.9,1249.1 L1204.3,1248.6 L1206.7,1248.6 L1209.1,1248.8 L1211.5,1248.5 L1213.9,1248.7 L1216.3,1248.4 L1218.7,1248.0 L1221.1,1248.0 L1223.5,1248.1 L1225.9,1247.3 L1228.3,1247.4 L1230.7,1247.0 L1233.1,1247.5 L1235.5,1246.4 L1237.9,1246.9 L1240.3,1246.0 L1242.7,1245.7 L1245.1,1246.0 L1247.5,1244.7 L1249.9,1244.7 L1252.3,1244.1 L1254.7,1243.7 L1257.1,1243.3 L1259.5,1242.3 L1260.0,1242.5 L1274.7,1237.5 L1284.5,1232.6 L1295.6,1229.0 L1298.0,1214.2 L1309.1,1208.1 L1312.8,1189.7 L1315.2,1150.4 L1316.4,1057.2 L1320.1,1057.2 L1321.3,1140.6 L1317.2,1172.0 L1322.5,1142.0 L1318.5,1185.0 L1324.5,1146.0 L1320.5,1190.0 L1326.3,1146.7 L1322.5,1180.0 L1327.5,1187.0 L1331.2,1205.6 L1334.8,1197.1 L1339.8,1217.9 L1345.9,1231.4 L1353.3,1238.8 L1358.2,1248.6 L1360.6,1252.5 L1363.0,1256.2 L1365.4,1258.7 L1367.8,1260.0 L1370.2,1262.5 L1372.6,1262.5 L1375.0,1264.6 L1377.4,1266.2 L1379.8,1266.2 L1382.2,1268.8 L1384.6,1270.2 L1387.0,1271.7 L1389.4,1273.0 L1391.8,1275.0 L1394.2,1277.1 L1396.6,1278.8 L1399.0,1281.3 L1401.4,1280.9 L1403.8,1282.6 L1406.2,1282.8 L1408.6,1283.3 L1411.0,1284.8 L1413.4,1286.3 L1415.8,1287.6 L1418.2,1288.0 L1420.6,1288.3 L1423.0,1289.2 L1425.4,1290.9 L1427.8,1291.3 L1430.2,1292.7 L1432.6,1293.1 L1435.0,1294.4 L1437.4,1295.2 L1439.8,1295.5 L1442.2,1296.4 L1444.6,1297.7 L1447.0,1298.0 L1449.4,1298.6 L1451.8,1299.6 L1454.2,1299.9 L1456.6,1301.1 L1459.0,1301.0 L1461.4,1301.8 L1463.8,1303.3 L1466.2,1303.7 L1468.6,1304.2 L1471.0,1304.3 L1473.4,1305.5 L1475.8,1305.8 L1478.2,1306.1 L1480.6,1306.8 L1483.0,1307.4 L1485.4,1308.3 L1487.8,1308.9 L1490.2,1309.3 L1492.6,1309.8 L1495.0,1310.4 L1497.4,1310.7 L1499.8,1311.3 L1502.2,1311.6 L1504.6,1312.1 L1507.0,1312.4 L1509.4,1312.9 L1511.8,1313.7 L1514.2,1314.3 L1516.6,1314.4 L1519.0,1315.1 L1521.4,1315.8 L1523.8,1316.0 L1526.2,1316.7 L1528.6,1317.1 L1531.0,1316.9 L1533.4,1317.8 L1535.8,1318.0 L1538.2,1318.3 L1540.6,1318.1 L1543.0,1318.6 L1545.4,1319.1 L1547.8,1319.0 L1550.2,1319.1 L1552.6,1319.8 L1555.0,1320.1 L1557.4,1319.7 L1559.8,1320.5 L1562.2,1320.5 L1564.6,1320.3 L1567.0,1320.6 L1569.4,1321.1 L1571.8,1321.1 L1574.2,1320.8 L1576.6,1321.2 L1579.0,1321.0 L1581.4,1321.4 L1583.8,1321.4 L1586.2,1321.4 L1588.6,1321.4 L1591.0,1321.7 L1593.4,1322.1 L1595.8,1321.8 L1598.2,1321.7 L1600.6,1321.6 L1603.0,1322.2 L1605.4,1321.7 L1607.8,1321.9 L1610.2,1322.0 L1612.6,1321.8 L1615.0,1322.1 L1617.4,1322.4 L1619.8,1322.0 L1622.2,1322.2 L1624.6,1322.0 L1627.0,1322.3 L1629.4,1322.3 L1631.8,1322.7 L1634.2,1322.1 L1636.6,1322.5 L1639.0,1322.5 L1641.4,1322.5 L1643.8,1322.8 L1646.2,1322.6 L1648.6,1322.6 L1651.0,1322.1 L1653.4,1322.2 L1655.8,1322.6 L1658.2,1322.7 L1660.6,1322.2 L1663.0,1322.5 L1665.4,1322.7 L1667.8,1322.3 L1670.2,1322.1 L1672.6,1322.3 L1675.0,1322.1 L1677.4,1322.1 L1679.8,1321.8 L1682.2,1322.1 L1684.6,1321.6 L1687.0,1322.0 L1689.4,1321.7 L1691.8,1321.4 L1694.2,1321.6 L1696.6,1321.0 L1699.0,1321.6 L1701.4,1321.4 L1703.8,1321.4 L1706.2,1320.7 L1708.6,1320.7 L1711.0,1321.1 L1713.4,1320.3 L1715.8,1320.2 L1718.2,1319.7 L1720.6,1319.9 L1723.0,1319.2 L1725.4,1319.2 L1727.8,1318.5 L1730.2,1318.5 L1732.6,1318.4 L1735.0,1317.7 L1737.4,1317.5 L1739.8,1317.1 L1742.2,1317.1 L1744.6,1316.5 L1747.0,1316.8 L1749.4,1316.0 L1751.8,1315.9 L1754.2,1315.5 L1756.6,1315.3 L1759.0,1314.9 L1761.4,1315.1 L1763.8,1314.3 L1766.2,1314.0 L1768.6,1314.2 L1771.0,1313.8 L1773.4,1313.1 L1775.8,1313.1 L1778.2,1312.3 L1780.6,1311.8 L1783.0,1312.0 L1785.4,1311.6 L1787.8,1310.9 L1790.2,1310.7 L1792.6,1310.1 L1795.0,1309.4 L1797.4,1309.2 L1799.8,1308.9 L1802.2,1308.5 L1804.6,1307.7 L1807.0,1307.6 L1809.4,1306.8 L1811.8,1306.1 L1814.2,1305.5 L1816.6,1304.9 L1819.0,1304.8 L1821.4,1303.8 L1823.8,1303.5 L1826.2,1302.8 L1828.6,1302.4 L1831.0,1302.1 L1833.4,1301.4 L1835.8,1300.0 L1838.2,1299.1 L1840.6,1298.3 L1843.0,1297.2 L1845.4,1296.0 L1847.8,1295.0 L1850.2,1294.4 L1852.6,1293.3 L1855.0,1291.3 L1857.4,1289.9 L1859.8,1289.8 L1860.0,1291.9 L1864.7,1290.5 L1869.4,1288.2 L1874.0,1280.7 L1878.7,1280.2 L1883.4,1277.9 L1888.1,1276.0 L1891.8,1272.3 L1893.7,1262.9 L1896.5,1267.6 L1899.3,1253.5 L1900.2,1244.2 L1902.6,1253.5 L1904.9,1262.9 L1906.8,1248.9 L1908.6,1242.3 L1910.5,1259.2 L1912.4,1234.8 L1914.3,1248.9 L1916.1,1258.2 L1918.0,1201.2 L1920.8,1240.4 L1923.6,1197.4 L1925.5,1240.4 L1927.4,1206.8 L1929.2,1195.5 L1931.1,1239.5 L1932.5,1187.1 L1934.8,1240.4 L1935.8,1225.5 L1937.6,1259.2 L1940.4,1241.4 L1942.3,1266.6 L1946.1,1253.5 L1948.9,1259.2 L1950.7,1272.3 L1954.5,1258.2 L1957.3,1279.7 L1961.0,1267.6 L1963.8,1281.6 L1967.6,1290.0 L1974.1,1282.5 L1979.7,1291.0 L1986.3,1292.8 L1993.8,1303.1 L1998.4,1299.4 L2001.3,1297.5" stroke="#ff00ff" stroke-width="4.2"/>
</g></g>
<g shape-rendering="crispEdges">
<rect x="357.5" y="49.2" width="1648.0" height="2.6" fill="#585858"/>
<rect x="360.5" y="51.8" width="1642.0" height="2.4" fill="#929292"/>
<rect x="360.5" y="1376.6" width="1642.0" height="2.5" fill="#929292"/>
<rect x="357.5" y="1379.1" width="1648.0" height="2.8" fill="#585858"/>
<rect x="357.3" y="49.6" width="2.8" height="1331.7" fill="#929292"/>
<rect x="360.1" y="49.6" width="2.8" height="1331.7" fill="#585858"/>
<rect x="2000.2" y="49.6" width="2.5" height="1331.7" fill="#585858"/>
<rect x="2002.7" y="49.6" width="2.8" height="1331.7" fill="#929292"/>
</g>
<path d="M771.4,1378.3 V1363.3 M771.4,52.6 V67.6 M1182.7,1378.3 V1363.3 M1182.7,52.6 V67.6 M1591.4,1378.3 V1363.3 M1591.4,52.6 V67.6 M361.5,353.0 H376.5 M2001.5,353.0 H1986.5 M361.5,655.0 H376.5 M2001.5,655.0 H1986.5 M361.5,957.0 H376.5 M2001.5,957.0 H1986.5 M361.5,1259.0 H376.5 M2001.5,1259.0 H1986.5" stroke="#636363" stroke-width="4.2" fill="none"/>
<g font-family="Liberation Serif, Times New Roman, serif" font-style="italic" stroke="#fff" stroke-width="1.3">
<text transform="translate(286.76,1487.60) scale(0.9616,1)" font-size="87.28" fill="#262626">0.98</text>
<text transform="translate(677.39,1487.60) scale(0.9526,1)" font-size="87.28" fill="#262626">0.985</text>
<text transform="translate(1109.78,1487.60) scale(0.9576,1)" font-size="87.28" fill="#262626">0.99</text>
<text transform="translate(1498.60,1487.60) scale(0.9505,1)" font-size="87.28" fill="#262626">0.995</text>
<text transform="translate(1982.00,1487.60) scale(0.9629,1)" font-size="87.28" fill="#262626">1</text>
<text transform="translate(224.79,81.30) scale(0.9547,1)" font-size="87.28" fill="#262626">0.1</text>
<text transform="translate(183.29,382.10) scale(0.9531,1)" font-size="87.28" fill="#262626">0.05</text>
<text transform="translate(287.85,684.60) scale(0.9370,1)" font-size="87.28" fill="#262626">0</text>
<text transform="translate(153.68,985.10) scale(0.9621,1)" font-size="87.28" fill="#262626">-0.05</text>
<text transform="translate(195.86,1288.40) scale(0.9693,1)" font-size="87.28" fill="#262626">-0.1</text>
<text transform="translate(444.90,1673.60) scale(0.9710,1)" font-size="94.99" fill="#262626">Fractional-order derivative value (q)</text>
<text transform="translate(82.40,1056.32) rotate(-90) scale(1.0169,1)" font-size="91.02" fill="#262626">Lyapunov exponents</text>
</g>
<rect x="400.3" y="77.3" width="379.4" height="368.9" fill="#fff" stroke="#5a5a5a" stroke-width="4.4"/>
<path d="M421.3,129.4 H631.3" stroke="#0000ff" stroke-width="3.6"/>
<path d="M421.3,217.7 H631.3" stroke="#ff0000" stroke-width="3.6"/>
<path d="M421.3,305.5 H631.3" stroke="#000000" stroke-width="3.6"/>
<path d="M421.3,393.9 H631.3" stroke="#ff00ff" stroke-width="3.6"/>
<g font-family="Liberation Serif, Times New Roman, serif" font-style="italic" stroke="#fff" stroke-width="1.3">
<text transform="translate(643.02,156.40) scale(1.0416,1)" font-size="75.75" fill="#000">Le1</text>
<text transform="translate(642.97,244.60) scale(0.9818,1)" font-size="75.75" fill="#000">Le2</text>
<text transform="translate(642.98,332.80) scale(0.9903,1)" font-size="75.75" fill="#000">Le3</text>
<text transform="translate(642.97,421.00) scale(0.9822,1)" font-size="75.75" fill="#000">Le4</text>
</g>
</svg></body></html>
